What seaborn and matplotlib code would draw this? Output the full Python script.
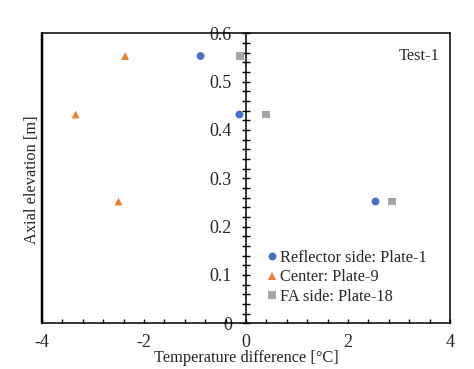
import matplotlib
matplotlib.use("Agg")
import matplotlib.pyplot as plt
import seaborn as sns
import pandas as pd
from matplotlib.ticker import MultipleLocator

# Data
series = ["Reflector side: Plate-1", "Center: Plate-9", "FA side: Plate-18"]
elev = [0.553, 0.432, 0.252]
reflector_dt = [-0.89, -0.13, 2.54]
center_dt = [-2.37, -3.34, -2.50]
fa_dt = [-0.11, 0.39, 2.86]

df = pd.DataFrame({
    "dt": reflector_dt + center_dt + fa_dt,
    "z": elev * 3,
    "series": [series[0]] * 3 + [series[1]] * 3 + [series[2]] * 3,
})

sns.set_style("white")
plt.rcParams["font.family"] = ["Liberation Serif", "DejaVu Serif"]

fig = plt.figure(figsize=(4.74, 3.69), dpi=100)
ax = fig.add_axes([42 / 474, 1 - 323.3 / 369, 408 / 474, 290 / 369])

palette = {series[0]: "#4472C4", series[1]: "#ED7D31", series[2]: "#A5A5A5"}
markers = {series[0]: "o", series[1]: "^", series[2]: "s"}
sns.scatterplot(data=df, x="dt", y="z", hue="series", style="series",
                palette=palette, markers=markers, s=32, linewidth=0,
                ax=ax, legend=True, zorder=3)

ax.set_xlim(-4, 4)
ax.set_ylim(0, 0.6)
ax.xaxis.set_major_locator(MultipleLocator(2))
ax.xaxis.set_minor_locator(MultipleLocator(0.4))
ax.yaxis.set_major_locator(MultipleLocator(0.1))
ax.yaxis.set_minor_locator(MultipleLocator(0.02))

lw = 1.1
for s in ["top", "right", "bottom"]:
    ax.spines[s].set_linewidth(lw)
    ax.spines[s].set_color("black")
ax.spines["left"].set_position(("data", 0))
ax.spines["left"].set_linewidth(lw)
ax.spines["left"].set_color("black")
# outer left frame edge
ax.axvline(-4, color="black", lw=lw * 1.6, clip_on=False, zorder=5)

ax.tick_params(axis="y", which="both", direction="inout", length=6, width=1.0,
               color="black", labelsize=13, pad=7, left=True, right=False)
ax.tick_params(axis="x", which="both", direction="in", length=3, width=1.0,
               color="black", labelsize=13, pad=8, bottom=True, top=False)

def yfmt(v, pos):
    return "0" if abs(v) < 1e-9 else f"{v:.1f}"
ax.yaxis.set_major_formatter(plt.FuncFormatter(yfmt))
ax.xaxis.set_major_formatter(plt.FuncFormatter(lambda v, p: f"{v:.0f}"))

fs = 11.8
ax.set_xlabel("Temperature difference [°C]", fontsize=fs, labelpad=-1)
ax.set_ylabel("")
fig.text(32 / 474, 1 - 180 / 369, "Axial elevation [m]", rotation=90,
         ha="center", va="center", fontsize=fs)

ax.text(0.975, 0.92, "Test-1", transform=ax.transAxes, ha="right", va="center",
        fontsize=fs)

leg = ax.legend(loc="lower left", bbox_to_anchor=(0.548, 0.064), frameon=False,
                fontsize=fs, handlelength=0.8, handletextpad=0.1,
                labelspacing=0.2, borderpad=0, borderaxespad=0)

fig.savefig("out.png", dpi=100)
